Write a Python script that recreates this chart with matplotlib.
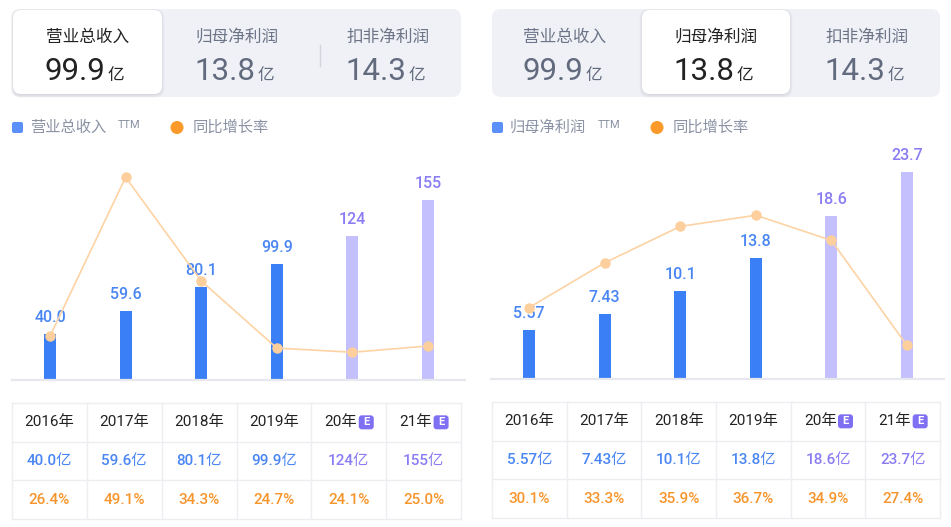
import matplotlib
matplotlib.use('Agg')
import matplotlib.pyplot as plt
from matplotlib.patches import FancyBboxPatch, Circle

plt.rcParams['font.family'] = ['Roboto', 'Noto Sans CJK SC', 'DejaVu Sans']

# summary tabs
tab_names = ['营业总收入', '归母净利润', '扣非净利润']
tab_values = ['99.9', '13.8', '14.3']

# chart / table data
years = ['2016年', '2017年', '2018年', '2019年', '20年', '21年']
estimated = [False, False, False, False, True, True]
revenue = [40.0, 59.6, 80.1, 99.9, 124, 155]
revenue_text = ['40.0', '59.6', '80.1', '99.9', '124', '155']
revenue_growth = [26.4, 49.1, 34.3, 24.7, 24.1, 25.0]
profit = [5.57, 7.43, 10.1, 13.8, 18.6, 23.7]
profit_text = ['5.57', '7.43', '10.1', '13.8', '18.6', '23.7']
profit_growth = [30.1, 33.3, 35.9, 36.7, 34.9, 27.4]

W, H = 951, 527
BLUE = '#3b7ff6'
PURPLE_BAR = '#c4c0fd'
LABEL_BLUE = '#4a86f3'
LABEL_PURPLE = '#8a7df4'
ORANGE_TXT = '#f7952c'
LINE_COL = '#fdd3a4'
GRAY_BOX = '#eff1f6'
GRID = '#eceef2'

fig = plt.figure(figsize=(W / 100, H / 100), dpi=100)
bg = fig.add_axes([0, 0, 1, 1])
bg.set_xlim(0, W)
bg.set_ylim(H, 0)
bg.axis('off')


def rbox(x0, y0, x1, y1, color, r=8, z=1, alpha=1.0):
	p = FancyBboxPatch((x0, y0), x1 - x0, y1 - y0,
					   boxstyle=f'round,pad=0,rounding_size={r}',
					   fc=color, ec='none', zorder=z, alpha=alpha)
	bg.add_patch(p)


def draw_panel(x0, x1, active, centers, divider, legend_name, chart_box,
			   values, value_text, growth, ylim_bar, ylim_line, table_box):
	# tab header
	rbox(x0, 9, x1, 97, GRAY_BOX, r=9, z=1)
	cx0, cx1 = active
	for k in range(4):
		rbox(cx0 - k * 0.8, 10 - k * 0.3, cx1 + k * 0.8, 95 + k * 0.9, '#000000', r=9, z=2, alpha=0.025)
	rbox(cx0, 10, cx1, 94, 'white', r=8, z=3)
	act_idx = [i for i, c in enumerate(centers) if cx0 < c < cx1][0]
	for i, (name, val) in enumerate(zip(tab_names, tab_values)):
		c = centers[i]
		on = i == act_idx
		bg.text(c, 37, name, ha='center', va='center', fontsize=12,
				color='#222222' if on else '#6c7487', zorder=5)
		bg.text(c + 18, 80, val, ha='right', va='baseline', fontsize=22.5,
				color='#222222' if on else '#626b7e', zorder=5)
		bg.text(c + 20, 80, '亿', ha='left', va='baseline', fontsize=12,
				color='#222222' if on else '#626b7e', zorder=5)
	if divider:
		bg.plot([divider, divider], [45, 66], color='#d3d6dd', lw=1, zorder=4)

	# legend
	rbox(x0, 122, x0 + 11, 133, '#5b8ff9', r=2, z=4)
	bg.text(x0 + 18, 127.5, legend_name, ha='left', va='center', fontsize=11, color='#8a92a4')
	bg.text(x0 + 106, 124.5, 'TTM', ha='left', va='center', fontsize=8, color='#8a92a4')
	bg.add_patch(Circle((x0 + 165, 127.5), 6.5, fc='#fb9a2a', ec='none'))
	bg.text(x0 + 181, 127.5, '同比增长率', ha='left', va='center', fontsize=11, color='#8a92a4')

	# chart
	ax0, ay0, ax1, ay1 = chart_box
	ax = fig.add_axes([ax0 / W, 1 - ay1 / H, (ax1 - ax0) / W, (ay1 - ay0) / H])
	ax.patch.set_alpha(0)
	xs = list(range(len(values)))
	cols = [PURPLE_BAR if e else BLUE for e in estimated]
	ax.bar(xs, values, width=0.16, color=cols, zorder=2)
	for x, v, t, e in zip(xs, values, value_text, estimated):
		ax.annotate(t, (x, v), xytext=(0, 8.6), textcoords='offset points',
					ha='center', va='baseline', fontsize=11.5, fontweight='medium',
					color=LABEL_PURPLE if e else LABEL_BLUE, zorder=3)
	ax.set_xlim(-0.503, 5.49)
	ax.set_ylim(*ylim_bar)
	for s in ['top', 'right', 'left']:
		ax.spines[s].set_visible(False)
	ax.spines['bottom'].set_color('#e6e8ee')
	ax.spines['bottom'].set_linewidth(1.6)
	ax.set_xticks([])
	ax.set_yticks([])
	ax2 = ax.twinx()
	ax2.plot(xs, growth, color=LINE_COL, lw=1.2, marker='o', ms=6.5,
			 mfc='#fccf9c', mec='#fccf9c', zorder=4)
	ax2.set_ylim(*ylim_line)
	ax2.axis('off')
	ax2.set_xlim(-0.503, 5.49)

	# table
	tx0, ty0, tx1, ty1 = table_box
	rows = [ty0, ty0 + (ty1 - ty0) / 3, ty0 + 2 * (ty1 - ty0) / 3, ty1]
	colw = (tx1 - tx0) / 6
	for y in rows:
		bg.plot([tx0, tx1], [y, y], color=GRID, lw=1, zorder=1)
	for j in range(7):
		x = tx0 + j * colw
		bg.plot([x, x], [ty0, ty1], color=GRID, lw=1, zorder=1)
	ymid = [(rows[i] + rows[i + 1]) / 2 for i in range(3)]
	for j in range(6):
		c = tx0 + (j + 0.5) * colw
		if estimated[j]:
			bg.text(c + 8.5, ymid[0], years[j], ha='right', va='center', fontsize=11,
					color='#222222')
			rbox(c + 10, ymid[0] - 7, c + 25, ymid[0] + 7, '#7f6ff2', r=3, z=3)
			bg.text(c + 17.5, ymid[0], 'E', ha='center', va='center', fontsize=8,
					color='white', fontweight='bold', zorder=4)
		else:
			bg.text(c, ymid[0], years[j], ha='center', va='center', fontsize=11,
					color='#222222')
		bg.text(c, ymid[1], value_text[j] + '亿', ha='center', va='center', fontsize=11,
				fontweight='medium', color=LABEL_PURPLE if estimated[j] else LABEL_BLUE)
		bg.text(c, ymid[2], f'{growth[j]:.1f}%', ha='center', va='center', fontsize=11,
				fontweight='medium', color=ORANGE_TXT)


draw_panel(12, 461, (13, 162), [87.5, 237, 388], 320, '营业总收入',
		   (12, 150, 465, 380), revenue, revenue_text, revenue_growth,
		   (0, 198), (20.14, 53.0), (12, 403, 461, 519))
draw_panel(492, 940, (642, 790), [565, 716, 867], None, '归母净利润',
		   (491, 150, 944, 379), profit, profit_text, profit_growth,
		   (0, 26.2), (25.0, 41.36), (492, 402, 940, 518))

fig.savefig('out.png', dpi=100)
